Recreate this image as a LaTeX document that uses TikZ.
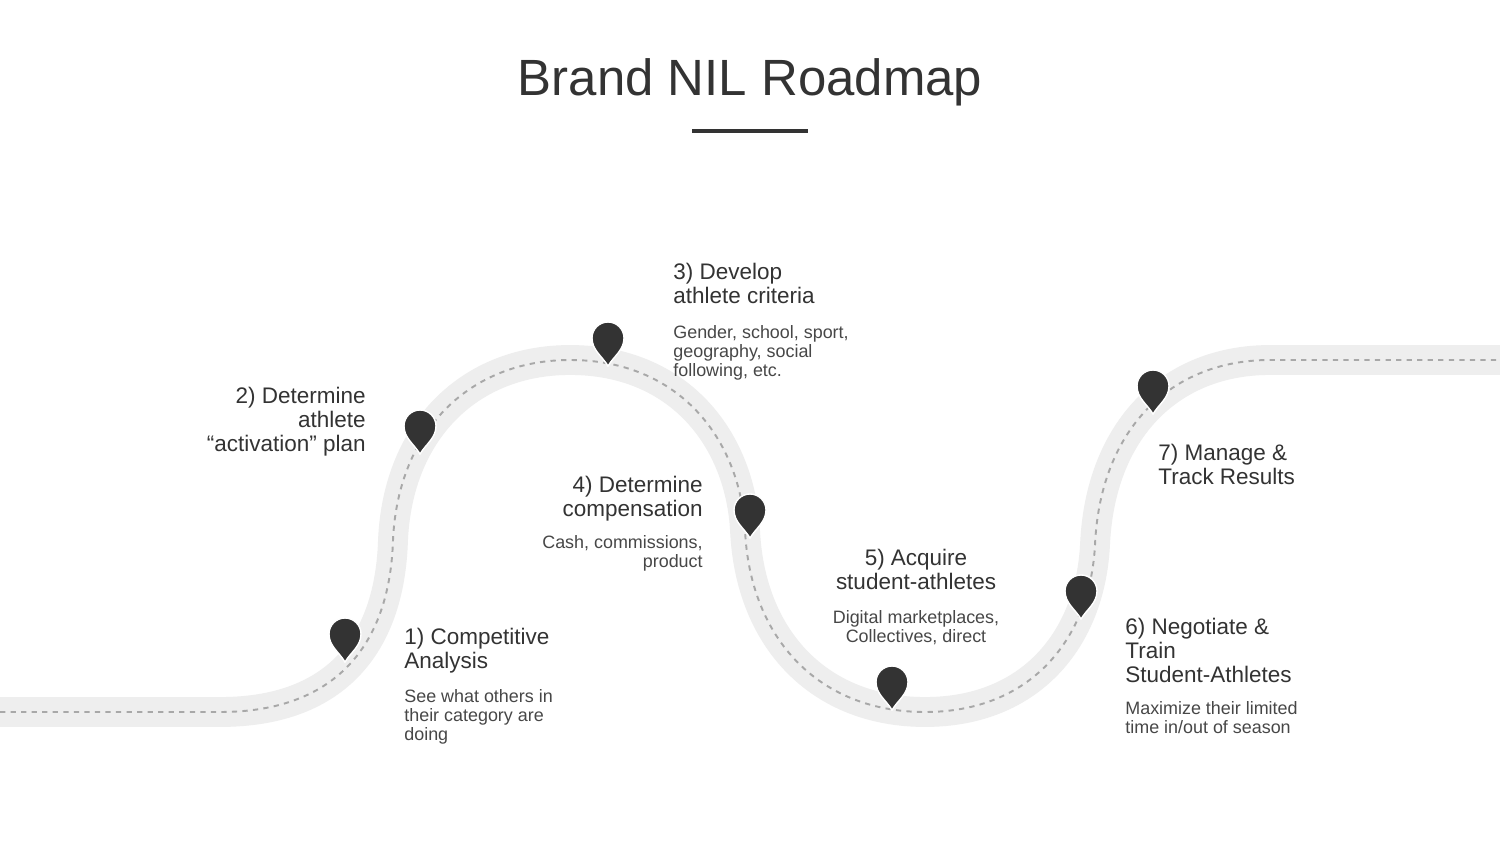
\documentclass[tikz,border=0pt]{standalone}
\usepackage{fontspec}
\setmainfont{Liberation Sans}
\definecolor{dark}{HTML}{333333}
\definecolor{roadgray}{HTML}{EEEEEE}
\definecolor{dashgray}{HTML}{A8A8A8}
\tikzset{
 head/.style={inner sep=0pt,text=dark,font=\fontsize{12.8}{13.6}\selectfont},
 body/.style={inner sep=0pt,text=dark!90,font=\fontsize{10.2}{10.8}\selectfont},
 pin/.pic={\fill[dark,draw=white,line width=0.8pt] (0,0) .. controls (-6,-10) and (-16,-16) .. (-16,-28) arc[start angle=180,end angle=360,radius=16] .. controls (16,-16) and (6,-10) .. (0,0) -- cycle;}
}
\begin{document}
\begin{tikzpicture}[x=0.02cm,y=-0.02cm]
\useasboundingbox (0,0) rectangle (1500,844);
\fill[white] (0,0) rectangle (1500,844);
\node[inner sep=0pt,text=dark,font=\fontsize{29}{34}\selectfont] (title) at (750,82) {Brand NIL Roadmap};
\coordinate (ula) at (692,131); \coordinate (ulb) at (808,131);
\draw[dark,line width=2.3pt] (ula) -- (ulb);
\def\roadpath{(0,712) -- (220,712) .. controls (340,712) and (390,640) .. (393,540) .. controls (398,430) and (470,360) .. (570,360) .. controls (680,360) and (740,440) .. (745,530) .. controls (750,640) and (820,712) .. (925,712) .. controls (1030,712) and (1090,640) .. (1095,545) .. controls (1100,430) and (1170,360) .. (1270,360) -- (1500,360)}
\draw[roadgray,line width=17pt] \roadpath;
\draw[dashgray,line width=1.1pt,dash pattern=on 3pt off 3pt] \roadpath;
\foreach \x/\y in {345/662,420/454,608/366,750/538,892/710,1081/619,1153/414}
  \pic at (\x,\y) {pin};
\node[head,anchor=north west,align=left] (h1) at (404,628) {1) Competitive\\Analysis};
\node[body,anchor=north west,align=left] (b1) at (404,689) {See what others in\\their category are\\doing};
\node[head,anchor=north east,align=right] (h2) at (366,387) {2) Determine\\athlete\\“activation” plan};
\node[head,anchor=north west,align=left] (h3) at (673,263) {3) Develop\\athlete criteria};
\node[body,anchor=north west,align=left] (b3) at (673,325) {Gender, school, sport,\\geography, social\\following, etc.};
\node[head,anchor=north east,align=right] (h4) at (703,476) {4) Determine\\compensation};
\node[body,anchor=north east,align=right] (b4) at (703,535) {Cash, commissions,\\product};
\node[head,anchor=north,align=center] (h5) at (916,549) {5) Acquire\\student-athletes};
\node[body,anchor=north,align=center] (b5) at (916,610) {Digital marketplaces,\\Collectives, direct};
\node[head,anchor=north west,align=left] (h6) at (1125,618) {6) Negotiate \&\\Train\\Student-Athletes};
\node[body,anchor=north west,align=left] (b6) at (1125,701) {Maximize their limited\\time in/out of season};
\node[head,anchor=north west,align=left] (h7) at (1158,444) {7) Manage \&\\Track Results};
\end{tikzpicture}
\end{document}
